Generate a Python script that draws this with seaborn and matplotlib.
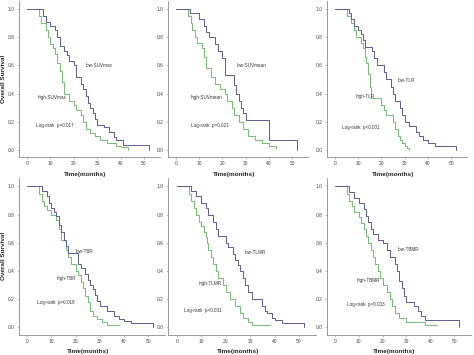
import numpy as np
import matplotlib
matplotlib.use("Agg")
import matplotlib.pyplot as plt
import pandas as pd
import seaborn as sns

# ---------------- data (step points) ----------------
suvmax_low_t = [0, 7, 8, 10, 12, 13, 14, 16, 17, 18, 20, 21, 23, 24, 25, 26, 27, 28, 29, 30, 33, 35, 37, 38, 41, 52]
suvmax_low_s = [1.0, 0.95, 0.91, 0.88, 0.85, 0.80, 0.74, 0.70, 0.67, 0.63, 0.60, 0.52, 0.47, 0.43, 0.38, 0.33, 0.30, 0.26, 0.22, 0.18, 0.16, 0.13, 0.09, 0.07, 0.035, 0.0]
suvmax_high_t = [0, 5, 6, 8, 9, 10, 11, 12, 13, 14, 15, 16, 18, 20, 21, 23, 24, 25, 27, 29, 31, 34, 38, 40, 43]
suvmax_high_s = [1.0, 0.95, 0.90, 0.85, 0.80, 0.75, 0.72, 0.68, 0.62, 0.56, 0.48, 0.40, 0.35, 0.32, 0.28, 0.25, 0.20, 0.15, 0.12, 0.10, 0.07, 0.05, 0.03, 0.02, 0.0]

suvmean_low_t = [0, 6, 10, 12, 13, 14, 17, 18, 20, 21, 25, 26, 27, 28, 29, 30, 40, 52]
suvmean_low_s = [1.0, 0.97, 0.93, 0.88, 0.84, 0.80, 0.75, 0.70, 0.65, 0.53, 0.46, 0.40, 0.35, 0.30, 0.26, 0.21, 0.07, 0.0]
suvmean_high_t = [0, 5, 6.5, 7, 8, 9, 11, 12, 13, 15, 17, 19, 21, 22, 24, 25, 27, 29, 31, 34, 37, 40, 43]
suvmean_high_s = [1.0, 0.95, 0.90, 0.85, 0.80, 0.76, 0.72, 0.66, 0.58, 0.52, 0.47, 0.43, 0.40, 0.35, 0.30, 0.25, 0.20, 0.15, 0.10, 0.07, 0.05, 0.03, 0.015]

tlr_low_t = [0, 6, 7, 8, 10, 11, 12, 13, 16, 17, 18, 21, 22, 24, 25, 26, 28, 29, 30, 32, 35, 36, 38, 40, 43, 52]
tlr_low_s = [1.0, 0.97, 0.93, 0.88, 0.85, 0.82, 0.78, 0.73, 0.70, 0.65, 0.60, 0.55, 0.50, 0.45, 0.40, 0.35, 0.30, 0.25, 0.20, 0.17, 0.13, 0.10, 0.07, 0.05, 0.03, 0.0]
tlr_high_t = [0, 5, 7, 8, 9, 11, 12, 13, 13.5, 14, 15, 15.5, 20, 21, 22, 25, 26, 27, 28, 29, 30, 31, 32]
tlr_high_s = [1.0, 0.95, 0.90, 0.85, 0.80, 0.76, 0.72, 0.66, 0.62, 0.54, 0.45, 0.37, 0.32, 0.28, 0.25, 0.20, 0.15, 0.10, 0.07, 0.05, 0.03, 0.015, 0.0]

tbr_low_t = [0, 6, 8, 9, 10, 11, 12, 13, 14, 15, 16, 17, 21, 22, 24, 25, 26, 27, 28, 29, 30, 33, 36, 38, 40, 43, 52]
tbr_low_s = [1.0, 0.97, 0.93, 0.88, 0.85, 0.82, 0.79, 0.73, 0.68, 0.62, 0.58, 0.53, 0.45, 0.42, 0.38, 0.34, 0.30, 0.27, 0.23, 0.19, 0.15, 0.12, 0.08, 0.06, 0.045, 0.03, 0.0]
tbr_high_t = [0, 5, 6, 7, 8, 10, 12, 13, 14, 16, 17, 18, 20, 21, 22, 23, 24, 25, 26, 27, 29, 31, 33, 38]
tbr_high_s = [1.0, 0.95, 0.90, 0.86, 0.83, 0.80, 0.76, 0.70, 0.62, 0.55, 0.50, 0.45, 0.40, 0.37, 0.32, 0.28, 0.22, 0.18, 0.12, 0.08, 0.06, 0.04, 0.02, 0.02]

tlmr_low_t = [0, 6, 8, 10, 12, 13, 15, 16, 17, 20, 21, 23, 24, 25, 26, 27, 28, 29, 31, 35, 36, 37, 39, 40, 43, 52]
tlmr_low_s = [1.0, 0.97, 0.93, 0.88, 0.85, 0.80, 0.75, 0.70, 0.65, 0.60, 0.57, 0.52, 0.48, 0.44, 0.40, 0.35, 0.30, 0.25, 0.20, 0.15, 0.12, 0.10, 0.07, 0.05, 0.03, 0.0]
tlmr_high_t = [0, 5, 6, 7, 8, 9, 10, 11, 12, 12.5, 13, 14, 15, 16, 17, 19, 20, 22, 24, 26, 27, 29, 31, 38]
tlmr_high_s = [1.0, 0.95, 0.90, 0.85, 0.80, 0.75, 0.72, 0.68, 0.64, 0.60, 0.55, 0.50, 0.45, 0.40, 0.35, 0.30, 0.25, 0.20, 0.15, 0.10, 0.07, 0.04, 0.02, 0.02]

tbmr_low_t = [0, 6, 8, 10, 12, 13, 14, 15, 16, 18, 20, 22, 23, 25, 26, 27, 28, 29, 30, 33, 35, 36, 38, 52]
tbmr_low_s = [1.0, 0.96, 0.92, 0.88, 0.84, 0.79, 0.75, 0.70, 0.66, 0.62, 0.60, 0.55, 0.50, 0.45, 0.40, 0.33, 0.28, 0.22, 0.18, 0.15, 0.12, 0.08, 0.05, 0.0]
tbmr_high_t = [0, 5, 6, 7, 8, 10, 11, 12, 13, 14, 15, 16, 17, 18, 19, 20, 22, 23, 24, 25, 27, 30, 38, 43]
tbmr_high_s = [1.0, 0.95, 0.90, 0.86, 0.82, 0.78, 0.74, 0.70, 0.65, 0.60, 0.55, 0.50, 0.45, 0.40, 0.35, 0.30, 0.25, 0.20, 0.15, 0.10, 0.07, 0.04, 0.02, 0.02]

low_labels = ["low-SUVmax", "low-SUVmean", "low-TLR", "low-TBR", "low-TLMR", "low-TBMR"]
high_labels = ["high-SUVmax", "high-SUVmean", "high-TLR", "high-TBR", "high-TLMR", "high-TBMR"]
pvalue_labels = ["Log-rank  p=0.017", "Log-rank  p=0.021", "Log-rank  p<0.001",
                 "Log-rank  p=0.018", "Log-rank  p<0.001", "Log-rank  p=0.003"]
x_ticks = [0, 10, 20, 30, 40, 50]
y_ticks = [0.0, 0.2, 0.4, 0.6, 0.8, 1.0]

curves = [
    (suvmax_low_t, suvmax_low_s, suvmax_high_t, suvmax_high_s),
    (suvmean_low_t, suvmean_low_s, suvmean_high_t, suvmean_high_s),
    (tlr_low_t, tlr_low_s, tlr_high_t, tlr_high_s),
    (tbr_low_t, tbr_low_s, tbr_high_t, tbr_high_s),
    (tlmr_low_t, tlmr_low_s, tlmr_high_t, tlmr_high_s),
    (tbmr_low_t, tbmr_low_s, tbmr_high_t, tbmr_high_s),
]

# text positions (data coords) for the labels
low_pos = [(25, 0.60), (26, 0.60), (27, 0.49), (20, 0.54), (28, 0.53), (26.5, 0.55)]
high_pos = [(4.5, 0.375), (6.4, 0.37), (9, 0.38), (12, 0.35), (9, 0.31), (9, 0.33)]
p_pos = [(4, 0.17), (6.4, 0.17), (3, 0.16), (4, 0.18), (3, 0.12), (5, 0.16)]

# axes boxes in pixels: left, top, width, height
W, H = 474, 355
boxes = [
    (18.8, 0.5, 141.6, 156.5),
    (167.9, 0.5, 140.4, 156.5),
    (326.9, 0.5, 140.4, 156.5),
    (18.8, 178.0, 146.4, 156.5),
    (168.1, 178.0, 148.0, 156.5),
    (326.7, 178.0, 144.0, 156.5),
]

low_color = "#5b5b96"
high_color = "#72bf72"
spine_color = "#8a8a8a"

sns.set_style("white")
plt.rcParams['font.family'] = ['Liberation Sans', 'DejaVu Sans']

fig = plt.figure(figsize=(W / 100, H / 100), dpi=100)

for i, (lt, ls, ht, hs) in enumerate(curves):
    l, t, w, h = boxes[i]
    ax = fig.add_axes([l / W, (H - t - h) / H, w / W, h / H])

    df_low = pd.DataFrame({"t": lt, "s": ls})
    df_high = pd.DataFrame({"t": ht, "s": hs})
    sns.lineplot(data=df_high, x="t", y="s", ax=ax, color=high_color, lw=0.7,
                 drawstyle="steps-post", estimator=None, sort=False)
    sns.lineplot(data=df_low, x="t", y="s", ax=ax, color=low_color, lw=0.7,
                 drawstyle="steps-post", estimator=None, sort=False)

    ax.set_xlim(-3.5, 57)
    ax.set_ylim(-0.05, 1.06)
    ax.set_xticks(x_ticks)
    ax.set_yticks(y_ticks)
    ax.set_xticklabels([str(v) for v in x_ticks])
    ax.set_yticklabels([f"{v:.1f}" for v in y_ticks])
    ax.tick_params(axis="both", labelsize=3.5, length=1.5, width=0.4,
                   color=spine_color, pad=1.5, direction="out",
                   labelcolor="#444444")
    ax.tick_params(left=True, bottom=True)

    for side in ["top", "right"]:
        ax.spines[side].set_visible(False)
    for side in ["left", "bottom"]:
        ax.spines[side].set_color(spine_color)
        ax.spines[side].set_linewidth(0.6)

    ax.set_xlabel("Time(months)", fontsize=4.6, fontweight="bold")
    ax.xaxis.set_label_coords(28.5 / 60.5, -15 / 156.5)
    if i in (0, 3):
        ax.set_ylabel("Overall Survival", fontsize=4.6, fontweight="bold")
        ax.yaxis.set_label_coords(-12.5 / w, 0.5)
    else:
        ax.set_ylabel("")

    ax.text(*low_pos[i], low_labels[i], fontsize=3.3, color="#333333", va="center")
    ax.text(*high_pos[i], high_labels[i], fontsize=3.3, color="#333333", va="center")
    ax.text(*p_pos[i], pvalue_labels[i], fontsize=3.3, color="#333333", va="center")

fig.savefig("out.png", dpi=100, facecolor="white")
